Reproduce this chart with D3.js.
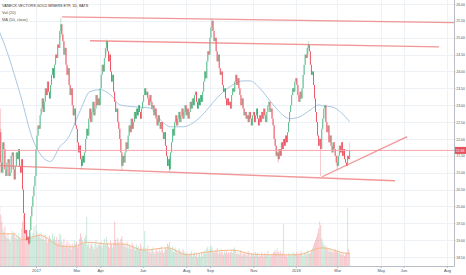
<!DOCTYPE html>
<html>
<head>
<meta charset="utf-8">
<script src="https://cdn.jsdelivr.net/npm/d3@7"></script>
<style>
  body { margin: 0; background: #fff; }
  svg { display: block; font-family: "Liberation Sans", Arial, sans-serif; }
</style>
</head>
<body>
<div class="chart"></div>
<script>
// daily bars, index 0 = 2016-11-09
var firstOpen = 24.3;
var closes = [
  // Nov 2016
  22.9, 22.2, 21.3, 21.0, 21.9, 21.7, 21.1, 20.9, 21.3, 21.4, 20.9, 21.0, 21.5, 21.6, 21.1,
  // Dec
  20.8, 21.2, 21.6, 21.4, 21.7, 21.2, 21.0, 21.4, 20.5, 19.8, 19.2, 19.3, 19.0, 19.1, 18.9, 19.3, 19.7, 20.0, 20.3, 20.6, 20.9,
  // Jan 2017
  21.7, 22.1, 22.4, 22.3, 22.7, 22.9, 23.2, 22.8, 23.1, 23.5, 23.3, 23.7, 23.4, 23.2, 23.6, 23.9, 24.1, 23.8, 24.2, 24.5,
  // Feb
  24.4, 24.8, 24.7, 25.2, 25.4, 25.1, 24.9, 24.5, 24.7, 24.2, 23.9, 24.1, 23.6, 23.3, 23.5, 23.0, 22.7, 22.9, 22.4,
  // Mar
  22.3, 21.9, 21.6, 21.8, 21.4, 21.2, 21.5, 21.3, 21.6, 22.0, 22.3, 22.1, 22.6, 22.9, 22.5, 22.8, 23.1, 22.7, 22.9, 23.3, 23.0, 23.2, 23.0,
  // Apr
  23.5, 23.9, 24.2, 24.0, 24.4, 24.7, 24.9, 24.6, 24.3, 24.5, 24.0, 23.7, 23.9, 23.4, 23.1, 22.8, 22.9, 22.5, 22.3,
  // May
  22.0, 21.6, 21.2, 21.5, 21.3, 21.6, 21.9, 21.7, 22.1, 22.4, 22.2, 22.6, 22.3, 22.5, 22.8, 22.6, 22.9, 22.7, 23.0, 22.8, 22.6, 22.9,
  // Jun
  23.1, 23.3, 23.5, 23.3, 23.4, 23.2, 23.0, 23.3, 23.1, 22.9, 23.0, 22.7, 22.9, 22.6, 22.4, 22.7, 22.5, 22.3, 22.5, 22.2, 22.0, 22.2,
  // Jul
  21.8, 21.5, 21.2, 21.4, 21.1, 21.6, 21.9, 22.3, 22.1, 22.5, 22.7, 22.4, 22.6, 22.8, 22.5, 22.7, 22.9, 22.6, 22.8, 23.0,
  // Aug
  22.7, 22.9, 22.6, 22.8, 23.1, 22.9, 23.2, 23.0, 23.3, 23.4, 23.1, 22.9, 23.2, 23.0, 23.3, 23.1, 23.4, 23.7, 24.0, 23.8, 24.3, 24.6, 24.5,
  // Sep
  25.0, 25.3, 25.5, 25.2, 24.9, 25.0, 24.6, 24.3, 24.5, 24.1, 23.9, 24.0, 23.6, 23.4, 23.5, 23.2, 23.0, 23.2, 23.0, 23.1,
  // Oct
  22.9, 23.3, 23.5, 23.4, 23.7, 23.9, 23.6, 23.8, 23.5, 23.3, 23.0, 23.2, 22.9, 22.7, 22.8, 22.6, 22.7, 22.5, 22.8, 22.6, 22.4, 22.7,
  // Nov
  22.8, 22.5, 22.7, 22.9, 22.6, 22.4, 22.7, 22.5, 22.8, 22.6, 22.9, 22.7, 22.5, 22.8, 23.0, 23.1, 22.8, 22.9, 22.6, 22.4, 22.0,
  // Dec
  21.8, 21.5, 21.6, 21.4, 21.7, 21.5, 21.9, 21.7, 22.0, 21.8, 22.1, 21.9, 22.2, 22.5, 22.8, 23.0, 23.3, 23.5, 23.4, 23.7,
  // Jan 2018
  23.8, 23.6, 23.3, 23.1, 23.4, 23.2, 23.5, 23.9, 24.2, 24.5, 24.4, 24.7, 24.8, 24.6, 24.2, 23.9, 24.0, 23.6, 23.2, 22.8, 22.5,
  // Feb
  22.1, 21.8, 22.0, 21.7, 22.3, 22.6, 22.9, 23.0, 22.5, 22.2, 22.4, 21.9, 22.1, 21.8, 21.6, 21.9, 21.7, 21.5, 21.3,
  // Mar
  21.2, 21.5, 21.8, 21.6, 21.9, 21.5, 21.7, 21.4, 21.3, 21.2, 21.5, 21.4, 21.66
];

// volume, millions
var volumes = [
  140, 128, 110, 95, 80, 72, 85, 66, 60, 70, 58, 52, 64, 75, 68,
  72, 60, 66, 58, 70, 62, 55, 80, 95, 110, 88, 76, 70, 64, 58, 72, 66, 60, 70, 84, 62,
  88, 74, 66, 70, 60, 72, 58, 64, 55, 68, 62, 50, 57, 66, 60, 52, 70, 58, 64, 55,
  62, 48, 56, 70, 66, 52, 44, 58, 40, 46, 54, 38, 50, 44, 36, 48, 42, 55, 47,
  52, 40, 46, 58, 70, 62, 55, 48, 60, 66, 105, 44, 50, 38, 46, 52, 42, 36, 48, 55, 40, 45, 50,
  44, 52, 40, 48, 58, 46, 62, 50, 42, 38, 54, 46, 40, 50, 95, 56, 48, 60, 52,
  46, 58, 64, 50, 44, 48, 40, 52, 38, 46, 42, 36, 50, 44, 40, 34, 46, 38, 42, 36, 48, 40,
  36, 40, 75, 38, 32, 44, 30, 36, 28, 34, 40, 30, 26, 38, 32, 28, 36, 30, 42, 34, 28, 32,
  40, 36, 48, 44, 52, 38, 34, 42, 30, 36, 40, 32, 28, 38, 34, 30, 26, 36, 32, 28,
  26, 30, 22, 28, 24, 32, 20, 26, 30, 22, 28, 18, 24, 26, 20, 30, 22, 28, 34, 26, 38, 42, 30,
  36, 44, 40, 32, 28, 34, 30, 38, 26, 32, 28, 36, 30, 24, 32, 28, 34, 26, 30, 28,
  30, 34, 28, 36, 40, 32, 26, 30, 24, 28, 34, 22, 26, 30, 24, 28, 22, 32, 26, 20, 28, 24,
  26, 22, 30, 24, 28, 20, 26, 22, 30, 24, 20, 28, 22, 26, 32, 24, 20, 26, 22, 28, 30,
  34, 28, 38, 30, 26, 32, 24, 28, 90, 26, 22, 24, 20, 28, 24, 26, 22, 30, 24, 28,
  26, 30, 22, 28, 24, 32, 26, 22, 30, 28, 24, 34, 30, 26, 28, 32, 38, 44, 50, 56, 62,
  70, 80, 96, 88, 60, 52, 46, 40, 44, 36, 40, 32, 38, 30, 34, 28, 32, 36, 30,
  34, 28, 32, 26, 30, 24, 28, 22, 26, 30, 125, 36, 30
];

// notable shadows [bar, high, low]
var wicks = [[0, 24.6, 22.8], [2, 22.3, 21.0], [29, 19.1, 18.85], [60, 25.6, 25.0], [80, 21.5, 21.1],
  [104, 24.95, 24.5], [119, 21.6, 21.05], [165, 21.5, 21.0], [206, 25.58, 25.2], [270, 21.7, 21.3],
  [299, 24.9, 24.5], [311, 22.0, 20.9], [327, 21.5, 21.1], [339, 21.9, 21.4]];

// MA (50, close) [bar, value]
var maPoints = [[0, 25.23], [4, 24.93], [21, 23.3], [33, 21.98], [50, 21.33], [59, 21.77], [66, 21.98],
  [79, 22.86], [88, 23.4], [98, 23.46], [110, 23.25], [117, 23.01], [132, 22.95], [146, 22.92],
  [156, 22.57], [166, 22.36], [178, 22.36], [188, 22.48], [197, 22.72], [211, 23.22], [223, 23.54],
  [236, 23.72], [243, 23.72], [252, 23.51], [262, 23.13], [272, 22.78], [281, 22.6], [291, 22.66],
  [301, 22.86], [309, 23.01], [313, 22.98], [322, 22.95], [330, 22.8], [339, 22.51]];

// Vol (20) average [bar, millions]
var volMaPoints = [[0, 69], [14, 69], [23, 56], [40, 66], [59, 43], [72, 41], [85, 51], [108, 47],
  [120, 47], [140, 34], [163, 39], [182, 24], [201, 30], [226, 34], [243, 26], [262, 24], [288, 24],
  [313, 39], [333, 28], [339, 26]];

// drawn trend lines [bar1, price1, bar2, price2]
var trendLines = [[61.2, 25.62, 440, 25.45], [88.2, 24.91, 425.4, 24.73],
  [0, 21.21, 382.9, 20.76], [312.4, 20.88, 394.5, 22.07]];

var monthTicks = [[36, "2017"], [75, "Mar"], [98, "Apr"], [139, "Jun"], [181, "Aug"], [204, "Sep"],
  [246, "Nov"], [287, "2018"], [327, "Mar"], [369, "May"], [391, "Jun"], [433, "Aug"]];
var priceTicks = [18.5, 19, 19.5, 20, 20.5, 21, 21.5, 22, 22.5, 23, 23.5, 24, 24.5, 25, 25.5, 26];
var lastPrice = 21.66;

var width = 466, height = 275;
var plotRight = 454, plotBottom = 266;
var upColor = "#53b987", downColor = "#eb4d5c";

var svg = d3.select("div.chart").append("svg").attr("width", width).attr("height", height);

var x = d3.scaleLinear().domain([0, 433]).range([-1.3, 447]);
var y = d3.scaleLinear().domain([18.5, 26]).range([257, 4]);
var yv = d3.scaleLinear().domain([0, 150]).range([plotBottom, 196]);

svg.append("clipPath").attr("id", "plot")
  .append("rect").attr("x", 0).attr("y", 0).attr("width", plotRight).attr("height", plotBottom);

// grid
svg.append("g").selectAll("line").data(priceTicks).join("line")
  .attr("x1", 0).attr("x2", plotRight)
  .attr("y1", function(d) { return Math.round(y(d)) + 0.5; })
  .attr("y2", function(d) { return Math.round(y(d)) + 0.5; })
  .attr("stroke", "#eef1f6").attr("stroke-width", 1);
svg.append("g").selectAll("line").data(monthTicks).join("line")
  .attr("x1", function(d) { return Math.round(x(d[0])) + 0.5; })
  .attr("x2", function(d) { return Math.round(x(d[0])) + 0.5; })
  .attr("y1", 0).attr("y2", plotBottom)
  .attr("stroke", "#eef1f6").attr("stroke-width", 1);

var bars = closes.map(function(c, i) {
  var o = i === 0 ? firstOpen : closes[i - 1];
  return { i: i, o: o, c: c, h: Math.max(o, c), l: Math.min(o, c), v: volumes[i] };
});
wicks.forEach(function(w) { bars[w[0]].h = w[1]; bars[w[0]].l = w[2]; });

var plot = svg.append("g").attr("clip-path", "url(#plot)");

// volume
plot.append("g").selectAll("rect").data(bars).join("rect")
  .attr("x", function(d) { return x(d.i) - 0.5; })
  .attr("y", function(d) { return yv(d.v); })
  .attr("width", 1)
  .attr("height", function(d) { return plotBottom - yv(d.v); })
  .attr("fill", function(d) { return d.c >= d.o ? upColor : downColor; })
  .attr("opacity", 0.3);

plot.append("path").datum(volMaPoints)
  .attr("fill", "none").attr("stroke", "#f7b98b").attr("stroke-width", 1)
  .attr("d", d3.line().curve(d3.curveMonotoneX)
    .x(function(d) { return x(d[0]); })
    .y(function(d) { return yv(d[1]); }));

// MA 50
plot.append("path").datum(maPoints)
  .attr("fill", "none").attr("stroke", "#a9c8e2").attr("stroke-width", 1)
  .attr("d", d3.line().curve(d3.curveMonotoneX)
    .x(function(d) { return x(d[0]); })
    .y(function(d) { return y(d[1]); }));

// candles
var candle = plot.append("g").selectAll("g").data(bars).join("g");
candle.append("line")
  .attr("x1", function(d) { return x(d.i); }).attr("x2", function(d) { return x(d.i); })
  .attr("y1", function(d) { return y(d.h); }).attr("y2", function(d) { return y(d.l); })
  .attr("stroke", function(d) { return d.c >= d.o ? upColor : downColor; })
  .attr("stroke-width", 0.6).attr("opacity", 0.6);
candle.append("rect")
  .attr("x", function(d) { return x(d.i) - 0.45; })
  .attr("y", function(d) { return y(Math.max(d.o, d.c)); })
  .attr("width", 0.9)
  .attr("height", function(d) { return Math.max(0.8, Math.abs(y(d.o) - y(d.c))); })
  .attr("fill", function(d) { return d.c >= d.o ? upColor : downColor; });

// last price line
plot.append("line")
  .attr("x1", 0).attr("x2", plotRight)
  .attr("y1", y(lastPrice)).attr("y2", y(lastPrice))
  .attr("stroke", "#f5a5aa").attr("stroke-width", 1);

// drawings
plot.append("g").selectAll("line").data(trendLines).join("line")
  .attr("x1", function(d) { return x(d[0]); }).attr("y1", function(d) { return y(d[1]); })
  .attr("x2", function(d) { return x(d[2]); }).attr("y2", function(d) { return y(d[3]); })
  .attr("stroke", "#f07c7c").attr("stroke-width", 1.3).attr("opacity", 0.8);

// axes
var yAxis = svg.append("g")
  .attr("transform", "translate(" + plotRight + ",0)")
  .call(d3.axisRight(y).tickValues(priceTicks).tickFormat(d3.format(".2f")).tickSize(1.5).tickPadding(0.8));
yAxis.select(".domain").remove();
yAxis.selectAll("line").attr("stroke", "#b8bcc4");
yAxis.selectAll("text").attr("font-size", "3.4px").attr("fill", "#4a4f5a").attr("font-family", null);

var xAxis = svg.append("g")
  .attr("transform", "translate(0," + plotBottom + ")")
  .call(d3.axisBottom(x).tickValues(monthTicks.map(function(d) { return d[0]; }))
    .tickFormat(function(d, k) { return monthTicks[k][1]; }).tickSize(2).tickPadding(1.5));
xAxis.select(".domain").remove();
xAxis.selectAll("line").attr("stroke", "#b8bcc4");
xAxis.selectAll("text").attr("font-size", "4px").attr("fill", "#4a4f5a").attr("font-family", null);

svg.append("line").attr("x1", plotRight + 0.5).attr("x2", plotRight + 0.5).attr("y1", 0).attr("y2", plotBottom + 0.5)
  .attr("stroke", "#b8bcc4");
svg.append("line").attr("x1", 0).attr("x2", plotRight + 0.5).attr("y1", plotBottom + 0.5).attr("y2", plotBottom + 0.5)
  .attr("stroke", "#b8bcc4");

// last price label
svg.append("rect").attr("x", plotRight + 1).attr("y", y(lastPrice) - 3.5)
  .attr("width", 11).attr("height", 7).attr("fill", "#e8505b");
svg.append("text").attr("x", plotRight + 1.8).attr("y", y(lastPrice))
  .attr("dy", "0.35em").attr("font-size", "3.4px").attr("fill", "#fff")
  .text(d3.format(".2f")(lastPrice));

// legend
var legend = ["VANECK VECTORS GOLD MINERS ETF, 1D, BATS", "Vol (20)", "MA (50, close)"];
svg.append("g").selectAll("text").data(legend).join("text")
  .attr("x", 2)
  .attr("y", function(d, k) { return 6.5 + k * 7.3; })
  .attr("font-size", function(d, k) { return k === 0 ? "3.7px" : "4px"; })
  .attr("fill", function(d, k) { return k === 0 ? "#333" : "#555"; })
  .text(function(d) { return d; });
</script>
</body>
</html>
